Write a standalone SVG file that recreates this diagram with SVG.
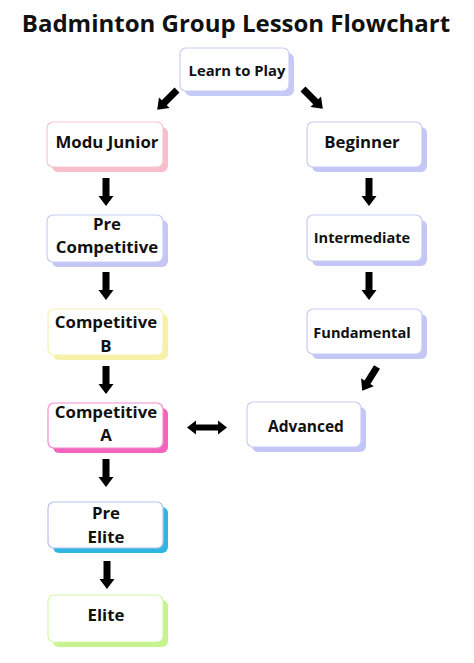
<svg xmlns="http://www.w3.org/2000/svg" xmlns:xlink="http://www.w3.org/1999/xlink" width="474" height="663" viewBox="0 0 474 663">
<style>
.t{font-family:"Open Sans","Liberation Sans",sans-serif;font-weight:700;fill:#111;text-anchor:middle}
.m{font-size:16.8px}
.box{fill:#fff;stroke-width:1.2}
.arr{fill:#000}
</style>
<defs>
<path id="ar" d="M-3.5,0 H3.5 V18 H7.5 L0,28 L-7.5,18 H-3.5 Z"/>
</defs>
<rect width="474" height="663" fill="#fff"/>
<text class="t" x="236" y="32" font-size="24">Badminton Group Lesson Flowchart</text>

<g id="learn">
<rect x="185" y="53" width="109" height="43" rx="6" fill="#c5c9f6"/>
<rect class="box" x="180" y="48" width="109" height="43" rx="6" stroke="#c8ccf6"/>
<text class="t" x="237" y="76" font-size="14.8">Learn to Play</text>
</g>
<g id="modu">
<rect x="52" y="127" width="116" height="45" rx="6" fill="#f8bfca"/>
<rect class="box" x="47" y="122" width="116" height="45" rx="6" stroke="#f8c6d0"/>
<text class="t m" x="107" y="148">Modu Junior</text>
</g>
<g id="precomp">
<rect x="52" y="220" width="116" height="47" rx="6" fill="#c4c7f6"/>
<rect class="box" x="47" y="215" width="116" height="47" rx="6" stroke="#c8ccf6"/>
<text class="t m" x="107" y="230">Pre</text>
<text class="t m" x="107" y="253">Competitive</text>
</g>
<g id="compb">
<rect x="53" y="314" width="115" height="46" rx="6" fill="#f6f1a6"/>
<rect class="box" x="48" y="309" width="115" height="46" rx="6" stroke="#f6f2b4"/>
<text class="t m" x="106" y="328">Competitive</text>
<text class="t m" x="106" y="352">B</text>
</g>
<g id="compa">
<rect x="53" y="408" width="115" height="45" rx="6" fill="#f264bd"/>
<rect class="box" x="48" y="403" width="115" height="45" rx="6" stroke="#f38ccd"/>
<text class="t m" x="106" y="418">Competitive</text>
<text class="t m" x="106" y="441">A</text>
</g>
<g id="preelite">
<rect x="53" y="507" width="115" height="46" rx="6" fill="#2cb6e0"/>
<rect class="box" x="48" y="502" width="115" height="46" rx="6" stroke="#b8c2f0"/>
<text class="t m" x="106" y="519">Pre</text>
<text class="t m" x="106" y="543">Elite</text>
</g>
<g id="elite">
<rect x="53" y="600" width="115" height="47" rx="6" fill="#c6f48c"/>
<rect class="box" x="48" y="595" width="115" height="47" rx="6" stroke="#d6f6ac"/>
<text class="t m" x="106" y="621">Elite</text>
</g>
<g id="beginner">
<rect x="312" y="127" width="115" height="45" rx="6" fill="#c4c7f6"/>
<rect class="box" x="307" y="122" width="115" height="45" rx="6" stroke="#c8ccf6"/>
<text class="t m" x="362" y="148">Beginner</text>
</g>
<g id="intermediate">
<rect x="312" y="220" width="115" height="46" rx="6" fill="#c4c7f6"/>
<rect class="box" x="307" y="215" width="115" height="46" rx="6" stroke="#c8ccf6"/>
<text class="t" x="362" y="243" font-size="14.6">Intermediate</text>
</g>
<g id="fundamental">
<rect x="312" y="314" width="115" height="45" rx="6" fill="#c4c7f6"/>
<rect class="box" x="307" y="309" width="115" height="45" rx="6" stroke="#c8ccf6"/>
<text class="t" x="362" y="338" font-size="14.6">Fundamental</text>
</g>
<g id="advanced">
<rect x="252" y="407" width="114" height="45" rx="6" fill="#c4c7f6"/>
<rect class="box" x="247" y="402" width="114" height="45" rx="6" stroke="#c8ccf6"/>
<text class="t" x="306" y="432" font-size="15.5">Advanced</text>
</g>

<g id="connectors" class="arr">
<use xlink:href="#ar" transform="translate(177,90) rotate(45)"/>
<use xlink:href="#ar" transform="translate(303,89) rotate(-45)"/>
<use xlink:href="#ar" transform="translate(106,178)"/>
<use xlink:href="#ar" transform="translate(106,272)"/>
<use xlink:href="#ar" transform="translate(106,366)"/>
<use xlink:href="#ar" transform="translate(106,459)"/>
<use xlink:href="#ar" transform="translate(107,561)"/>
<use xlink:href="#ar" transform="translate(369,178)"/>
<use xlink:href="#ar" transform="translate(369,272)"/>
<use xlink:href="#ar" transform="translate(377,367) rotate(32)"/>
<path d="M187,427.5 L196,420.5 V424.5 H218 V420.5 L227,427.5 L218,434.5 V430.5 H196 V434.5 Z"/>
</g>
</svg>
